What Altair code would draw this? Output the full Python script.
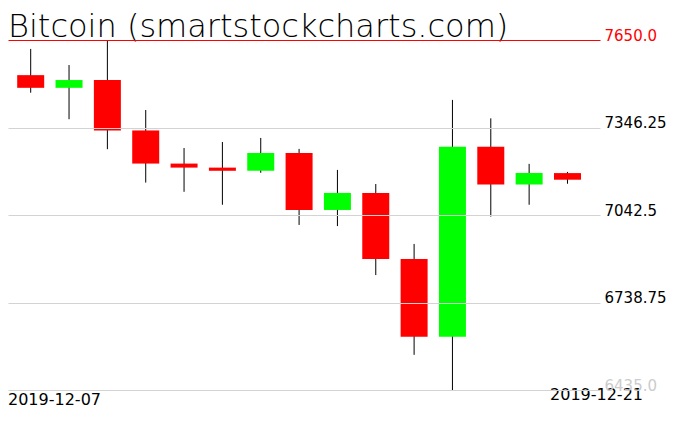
import altair as alt
import pandas as pd

dates = ["2019-12-07", "2019-12-08", "2019-12-09", "2019-12-10", "2019-12-11",
         "2019-12-12", "2019-12-13", "2019-12-14", "2019-12-15", "2019-12-16",
         "2019-12-17", "2019-12-18", "2019-12-19", "2019-12-20", "2019-12-21"]
opens = [7528, 7484, 7511, 7336, 7221, 7207, 7196, 7258, 7060, 7119, 6890, 6620, 7279, 7148, 7188]
highs = [7619, 7563, 7650, 7407, 7275, 7296, 7310, 7272, 7199, 7150, 6942, 7442, 7378, 7220, 7192]
lows = [7467, 7375, 7271, 7155, 7123, 7078, 7189, 7008, 7004, 6834, 6557, 6435, 7037, 7078, 7151]
closes = [7484, 7511, 7336, 7221, 7207, 7196, 7258, 7060, 7119, 6890, 6620, 7279, 7148, 7188, 7165]

y_ticks = [6435.0, 6738.75, 7042.5, 7346.25, 7650.0]
title_text = "Bitcoin (smartstockcharts.com)"

df = pd.DataFrame({
    "idx": list(range(len(dates))),
    "date": dates,
    "open": opens,
    "high": highs,
    "low": lows,
    "close": closes,
})

xscale = alt.Scale(domain=[-18 / 39, 574 / 39], nice=False, zero=False)
yscale = alt.Scale(domain=[y_ticks[0], y_ticks[-1]], nice=False, zero=False)

base = alt.Chart(df)

yaxis = alt.Axis(
    orient="right",
    values=y_ticks,
    grid=True,
    gridColor={"condition": {"test": "datum.value == 7650", "value": "#ff0000"}, "value": "#d3d3d3"},
    gridWidth=1,
    domain=False,
    ticks=False,
    labelPadding=4,
    labelAlign="left",
    labelBaseline="alphabetic",
    labelFont="DejaVu Sans",
    labelFontSize=15,
    labelColor={"condition": [
        {"test": "datum.value == 7650", "value": "#ff0000"},
        {"test": "datum.value == 6435", "value": "#cccccc"}], "value": "#000000"},
    labelExpr="datum.value % 1 == 0 ? format(datum.value, '.1f') : toString(datum.value)",
    labelOverlap=False,
    labelFlush=False,
    title=None,
    zindex=1,
)

wicks = base.mark_rule(color="black", strokeWidth=1).encode(
    x=alt.X("idx:Q", scale=xscale, axis=None),
    y=alt.Y("low:Q", scale=yscale, axis=yaxis),
    y2="high:Q",
)

bodies = base.mark_bar(size=27).encode(
    x=alt.X("idx:Q", scale=xscale, axis=None),
    y=alt.Y("open:Q", scale=yscale),
    y2="close:Q",
    color=alt.condition("datum.close > datum.open", alt.value("#00ff00"), alt.value("#ff0000")),
)

title_mark = alt.Chart(pd.DataFrame({"t": [title_text]})).mark_text(
    align="left", baseline="alphabetic", font="DejaVu Sans", fontSize=32,
    fontWeight=200, color="black"
).encode(x=alt.value(0), y=alt.value(-3), text="t:N")

first_label = alt.Chart(pd.DataFrame({"d": [dates[0]]})).mark_text(
    align="left", baseline="middle", font="DejaVu Sans", fontSize=16, color="black"
).encode(x=alt.value(0), y=alt.value(360), text="d:N")

last_label = alt.Chart(pd.DataFrame({"d": [dates[-1]]})).mark_text(
    align="right", baseline="middle", font="DejaVu Sans", fontSize=16, color="black"
).encode(x=alt.value(635), y=alt.value(355), text="d:N")

chart = alt.layer(wicks, bodies, title_mark, first_label, last_label).properties(
    width=592,
    height=350,
    autosize=alt.AutoSizeParams(type="none"),
    padding={"left": 0, "top": 32, "right": 68, "bottom": 30},
).configure(background="white", view={"stroke": None})

chart.save("out.html", embed_options={"renderer": "svg", "actions": False})
